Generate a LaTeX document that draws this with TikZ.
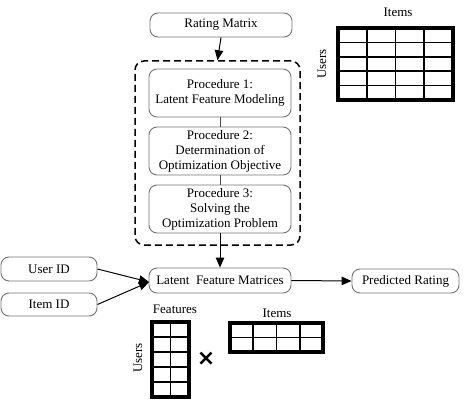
\documentclass[tikz,border=0pt]{standalone}
\usepackage{fontspec}
\setmainfont{Liberation Serif}
\newfontfamily\djv{DejaVu Sans}
\usetikzlibrary{arrows.meta}
\begin{document}
\begin{tikzpicture}[x=1pt,y=-1pt,
  box/.style={draw=black!55,line width=0.9pt,rounded corners=8pt,align=center,inner sep=0pt,font=\fontsize{13}{15}\selectfont},
  arr/.style={-{Triangle[length=10pt,width=8.5pt]},line width=1pt},
  lbl/.style={inner sep=0pt,font=\fontsize{13}{15}\selectfont},
  outer/.style={line width=3.2pt},
  inner/.style={line width=1.6pt}]
\useasboundingbox (0,0) rectangle (474,401);
\node[box,minimum width=142pt,minimum height=24pt] (rm) at (221,25) {Rating Matrix};
\node[draw,dashed,dash pattern=on 7pt off 4pt,line width=1.5pt,rounded corners=9pt,minimum width=165pt,minimum height=184pt,inner sep=0pt] (dbox) at (217.5,153) {};
\node[box,minimum width=142pt,minimum height=48pt] (p1) at (220,93) {Procedure 1:\\Latent Feature Modeling};
\node[box,minimum width=142pt,minimum height=48pt] (p2) at (220,151) {Procedure 2:\\Determination of\\Optimization Objective};
\node[box,minimum width=142pt,minimum height=48pt] (p3) at (220,209) {Procedure 3:\\Solving the\\Optimization Problem};
\node[box,minimum width=142pt,minimum height=25pt] (lfm) at (220,280.5) {Latent\ \ Feature Matrices};
\node[box,minimum width=96pt,minimum height=24pt] (uid) at (49,269) {User ID};
\node[box,minimum width=96pt,minimum height=23pt] (iid) at (49,304.5) {Item ID};
\node[box,minimum width=107pt,minimum height=24pt] (pr) at (405.5,281) {Predicted Rating};
\coordinate (lfmin) at (149,282);
\draw[arr] (rm.south) -- (dbox.north);
\draw[line width=1pt,black!70] (p1.south) -- (p2.north);
\draw[line width=1pt,black!70] (p2.south) -- (p3.north);
\draw[arr] (p3.south) -- (lfm.north);
\draw[arr] (uid.east) -- (lfmin);
\draw[arr] (iid.east) -- (lfmin);
\draw[arr] (lfm.east) -- (pr.west);
% rating matrix
\foreach \i in {1,2,3} \draw[inner] ({338+\i*115/4},28) -- ({338+\i*115/4},100);
\foreach \j in {1,2,3,4} \draw[inner] (338,{28+\j*72/5}) -- (453,{28+\j*72/5});
\draw[outer] (338,28) rectangle (453,100);
\node[lbl] (ri) at (398,12) {Items};
\node[lbl,rotate=90] (ru) at (322,64) {Users};
% features matrix
\draw[inner] (170.5,322) -- (170.5,397);
\foreach \j in {1,2,3,4} \draw[inner] (152,{322+\j*75/5}) -- (189,{322+\j*75/5});
\draw[outer] (152,322) rectangle (189,397);
\node[lbl] (fl) at (175,309) {Features};
\node[lbl,rotate=90] (fu) at (138,358) {Users};
\node[inner sep=0pt,font=\djv\bfseries\fontsize{22}{22}\selectfont] (times) at (206,359) {×};
% items matrix
\foreach \i in {1,2,3} \draw[inner] ({230+\i*93/4},323) -- ({230+\i*93/4},352);
\draw[inner] (230,337.5) -- (323,337.5);
\draw[outer] (230,323) rectangle (323,352);
\node[lbl] (il) at (277,313) {Items};
\end{tikzpicture}
\end{document}
